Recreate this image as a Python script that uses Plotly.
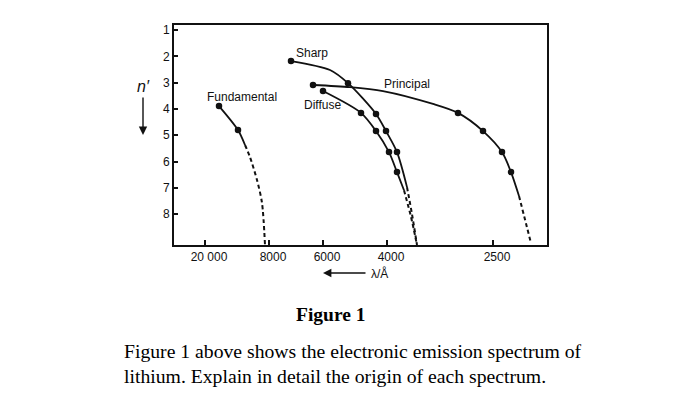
import plotly.graph_objects as go

# x values are in the figure's (non-linear, hand-drawn) abscissa units; y is n'
tick_pos = [205, 269, 323, 387, 493]
tick_text = ["20 000", "8000", "6000", "4000", "2500"]
n_ticks = [1, 2, 3, 4, 5, 6, 7, 8]

# Fundamental
fund_x = [219, 238]
fund_n = [3.89, 4.80]
fund_solid_x = [219, 238, 245]
fund_solid_n = [3.89, 4.80, 5.37]
fund_dash_x = [245, 250, 257, 262, 265]
fund_dash_n = [5.37, 5.83, 6.70, 7.57, 9.17]

# Sharp
sharp_x = [291, 348, 376, 386, 397]
sharp_n = [2.18, 3.02, 4.19, 4.84, 5.64]
sharp_solid_x = [291, 330, 348, 376, 386, 397, 407]
sharp_solid_n = [2.18, 2.52, 3.02, 4.19, 4.84, 5.64, 6.97]
sharp_dash_x = [407, 412, 417]
sharp_dash_n = [6.97, 8.0, 9.17]

# Diffuse
diff_x = [323, 361, 376, 389, 397]
diff_n = [3.32, 4.15, 4.84, 5.64, 6.40]
diff_solid_x = [323, 361, 376, 389, 397, 404]
diff_solid_n = [3.32, 4.15, 4.84, 5.64, 6.40, 7.09]
diff_dash_x = [404, 411, 417]
diff_dash_n = [7.09, 8.1, 9.17]

# Principal
prin_x = [313, 458, 483, 502, 511]
prin_n = [3.09, 4.15, 4.84, 5.64, 6.40]
prin_solid_x = [313, 350, 383, 433, 458, 483, 502, 511, 519]
prin_solid_n = [3.09, 3.17, 3.32, 3.81, 4.15, 4.84, 5.64, 6.40, 7.31]
prin_dash_x = [519, 525, 531]
prin_dash_n = [7.31, 8.2, 9.10]

BLACK = "#111111"
fig = go.Figure()


def add_series(sx, sn, dx, dn, mx, mn):
    fig.add_trace(go.Scatter(x=sx, y=sn, mode="lines",
                             line=dict(color=BLACK, width=1.8, shape="spline", smoothing=0.8),
                             hoverinfo="skip", showlegend=False))
    fig.add_trace(go.Scatter(x=dx, y=dn, mode="lines",
                             line=dict(color=BLACK, width=2, shape="spline", smoothing=0.8, dash="4px,3px"),
                             hoverinfo="skip", showlegend=False))
    fig.add_trace(go.Scatter(x=mx, y=mn, mode="markers",
                             marker=dict(color=BLACK, size=6.5),
                             showlegend=False))


add_series(fund_solid_x, fund_solid_n, fund_dash_x, fund_dash_n, fund_x, fund_n)
add_series(sharp_solid_x, sharp_solid_n, sharp_dash_x, sharp_dash_n, sharp_x, sharp_n)
add_series(diff_solid_x, diff_solid_n, diff_dash_x, diff_dash_n, diff_x, diff_n)
add_series(prin_solid_x, prin_solid_n, prin_dash_x, prin_dash_n, prin_x, prin_n)

L, R, T, B = 174, 547, 25, 245
W, H = 700, 396


def px(x):
    return (x - L) / (R - L)


def py(y):
    return 1 - (y - T) / (B - T)


sans = "Liberation Sans, Arial, sans-serif"
serif = "Liberation Serif, Times New Roman, serif"

ann = []
for txt, x, y in [("Sharp", 294, 53), ("Diffuse", 302, 105), ("Principal", 382, 84), ("Fundamental", 205, 97)]:
    ann.append(dict(text=txt, x=px(x), y=py(y), xref="paper", yref="paper", xanchor="left", yanchor="middle",
                    showarrow=False, font=dict(family=sans, size=12, color=BLACK)))
ann.append(dict(text="<i>n′</i>", x=px(143), y=py(86), xref="paper", yref="paper", xanchor="center", yanchor="middle",
                showarrow=False, font=dict(family=sans, size=16, color=BLACK)))
ann.append(dict(text="", x=px(143), y=py(135), xref="paper", yref="paper", ax=0, ay=-39,
                showarrow=True, arrowhead=2, arrowsize=1.2, arrowwidth=1.4, arrowcolor=BLACK))
ann.append(dict(text="", x=px(323), y=py(273), xref="paper", yref="paper", ax=44, ay=0,
                showarrow=True, arrowhead=2, arrowsize=1.2, arrowwidth=1.4, arrowcolor=BLACK))
ann.append(dict(text="λ/Å", x=px(369), y=py(273), xref="paper", yref="paper", xanchor="left", yanchor="middle",
                showarrow=False, font=dict(family=sans, size=12, color=BLACK)))
ann.append(dict(text="<b>Figure 1</b>", x=px(331), y=py(314), xref="paper", yref="paper", xanchor="center",
                yanchor="middle", showarrow=False, font=dict(family=serif, size=19.5, color="black")))
ann.append(dict(text="Figure 1 above shows the electronic emission spectrum of", x=px(122), y=py(351),
                xref="paper", yref="paper", xanchor="left", yanchor="middle", showarrow=False,
                font=dict(family=serif, size=19.7, color="black")))
ann.append(dict(text="lithium. Explain in detail the origin of each spectrum.", x=px(122), y=py(376),
                xref="paper", yref="paper", xanchor="left", yanchor="middle", showarrow=False,
                font=dict(family=serif, size=19.7, color="black")))

fig.update_layout(
    width=W, height=H,
    margin=dict(l=L, r=W - R, t=T, b=H - B),
    paper_bgcolor="white", plot_bgcolor="white",
    annotations=ann,
    xaxis=dict(range=[L, R], tickvals=tick_pos, ticktext=tick_text, ticks="inside", ticklen=5, tickwidth=1.5,
               tickcolor=BLACK, showgrid=False, zeroline=False, showline=True, linecolor=BLACK, linewidth=2,
               mirror=True, ticklabelshift=4, tickfont=dict(family=sans, size=12, color=BLACK)),
    yaxis=dict(range=[9.17, 0.81], tickvals=n_ticks, ticks="inside", ticklen=4, tickwidth=1.5,
               tickcolor=BLACK, showgrid=False, zeroline=False, showline=True, linecolor=BLACK, linewidth=2,
               mirror=True, tickfont=dict(family=sans, size=12, color=BLACK)),
)

fig.write_html("out.html")
